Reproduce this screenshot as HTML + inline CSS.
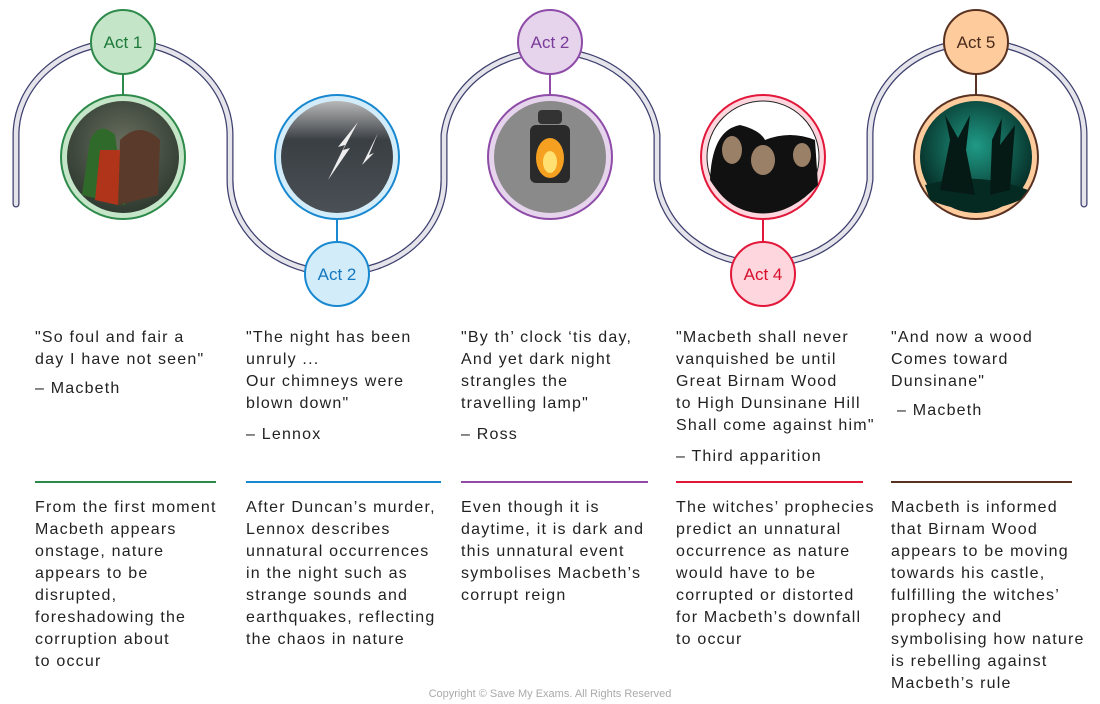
<!DOCTYPE html>
<html><head><meta charset="utf-8"><style>
body{margin:0;width:1100px;height:704px;background:#fff;position:relative;overflow:hidden;font-family:"Liberation Sans",sans-serif;}
.t{position:absolute;font-size:16px;letter-spacing:1.2px;color:#222;white-space:nowrap;line-height:22px;}
.hr{position:absolute;top:481px;height:2px;}
.cp{position:absolute;top:688px;left:0;width:1100px;text-align:center;font-size:11px;color:#aaa;}
</style></head><body>
<svg width="1100" height="704" style="position:absolute;left:0;top:0">
<defs>
<radialGradient id="g1" cx="50%" cy="40%" r="60%"><stop offset="0" stop-color="#6a7060"/><stop offset="1" stop-color="#2f3a30"/></radialGradient>
<linearGradient id="g2" x1="0" y1="0" x2="0" y2="1"><stop offset="0" stop-color="#b8b8b8"/><stop offset="0.35" stop-color="#3a3f44"/><stop offset="1" stop-color="#4a5055"/></linearGradient>
<radialGradient id="g5" cx="50%" cy="40%" r="60%"><stop offset="0" stop-color="#1f9a86"/><stop offset="1" stop-color="#04261f"/></radialGradient>
</defs>
<g fill="none" stroke-linecap="round">
<path d="M16 204 V135 A107 93 0 0 1 230 135 V180 A107 93 0 0 0 444 180 V135 A107 93 0 0 1 657 135 V180 A107 93 0 0 0 870 180 V135 A107 93 0 0 1 1084 135 V204" stroke="#3d3f6e" stroke-width="7"/>
<path d="M16 204 V135 A107 93 0 0 1 230 135 V180 A107 93 0 0 0 444 180 V135 A107 93 0 0 1 657 135 V180 A107 93 0 0 0 870 180 V135 A107 93 0 0 1 1084 135 V204" stroke="#e4e4ea" stroke-width="4.5"/>
</g>
<line x1="123" y1="74" x2="123" y2="96" stroke="#2d8a4a" stroke-width="2"/>
<line x1="337" y1="220" x2="337" y2="242" stroke="#1888d0" stroke-width="2"/>
<line x1="550" y1="74" x2="550" y2="96" stroke="#8e4ca8" stroke-width="2"/>
<line x1="763" y1="220" x2="763" y2="242" stroke="#e3173a" stroke-width="2"/>
<line x1="976" y1="74" x2="976" y2="96" stroke="#5a3222" stroke-width="2"/>
<circle cx="123" cy="157" r="62" fill="#c5e5c8" stroke="#2d8a4a" stroke-width="2"/>
<circle cx="123" cy="157" r="56" fill="url(#g1)"/>
<path d="M82 195 L90 140 Q100 120 115 135 L125 205 Z" fill="#2f6a2a"/><path d="M118 205 L120 140 Q140 120 160 140 L158 195 Z" fill="#5a3a2a"/><path d="M95 200 L100 150 L120 150 L118 205Z" fill="#b0341a"/>
<circle cx="337" cy="157" r="62" fill="#d3ecf9" stroke="#1888d0" stroke-width="2"/>
<circle cx="337" cy="157" r="56" fill="url(#g2)"/>
<path d="M358 122 L343 150 L350 148 L328 180 L345 145 L338 147 Z M378 133 L369 155 L374 153 L362 165 Z" fill="#eee"/>
<circle cx="550" cy="157" r="62" fill="#e6d3ec" stroke="#8e4ca8" stroke-width="2"/>
<circle cx="550" cy="157" r="56" fill="#8a8a8a"/>
<rect x="530" y="125" width="40" height="58" rx="6" fill="#2a2a2a"/><ellipse cx="550" cy="158" rx="14" ry="20" fill="#f5a020"/><ellipse cx="550" cy="162" rx="7" ry="11" fill="#ffe070"/><rect x="538" y="110" width="24" height="14" rx="4" fill="#333"/>
<circle cx="763" cy="157" r="62" fill="#fdd6de" stroke="#e3173a" stroke-width="2"/>
<circle cx="763" cy="157" r="56" fill="#fff" stroke="#222"/>
<path d="M710 180 Q712 130 740 125 Q760 130 765 140 Q790 130 815 140 L818 185 Q790 215 760 213 Q730 212 710 180Z" fill="#111"/>
<ellipse cx="732" cy="150" rx="10" ry="14" fill="#9b8068"/><ellipse cx="763" cy="160" rx="12" ry="15" fill="#9b8068"/><ellipse cx="802" cy="155" rx="9" ry="12" fill="#9b8068"/>
<circle cx="976" cy="157" r="62" fill="#fdcb9c" stroke="#5a3222" stroke-width="2"/>
<circle cx="976" cy="157" r="56" fill="url(#g5)"/>
<path d="M925 185 Q976 170 1028 190 L1020 200 Q976 220 930 200Z" fill="#052a22"/><path d="M940 190 L950 140 L945 115 L958 138 L970 115 L966 150 L975 195Z M990 195 L992 140 L1002 118 L1000 145 L1015 125 L1010 190Z" fill="#051a15"/>
<g font-family="Liberation Sans, sans-serif" font-size="17" text-anchor="middle">
<circle cx="123" cy="42" r="32" fill="#c5e5c8" stroke="#2d8a4a" stroke-width="2"/><text x="123" y="48" fill="#1d7a3a">Act 1</text>
<circle cx="337" cy="274" r="32" fill="#d3ecf9" stroke="#1888d0" stroke-width="2"/><text x="337" y="280" fill="#1478c0">Act 2</text>
<circle cx="550" cy="42" r="32" fill="#e6d3ec" stroke="#8e4ca8" stroke-width="2"/><text x="550" y="48" fill="#7a3c98">Act 2</text>
<circle cx="763" cy="274" r="32" fill="#fdd6de" stroke="#e3173a" stroke-width="2"/><text x="763" y="280" fill="#d8102e">Act 4</text>
<circle cx="976" cy="42" r="32" fill="#fdcb9c" stroke="#5a3222" stroke-width="2"/><text x="976" y="48" fill="#4a2a1a">Act 5</text>
</g>
</svg>

<div class="t" style="left:35px;top:327px">"So foul and fair a<br>day I have not seen"</div>
<div class="t" style="left:35px;top:378px">– Macbeth</div>
<div class="t" style="left:246px;top:327px">"The night has been<br>unruly ...<br>Our chimneys were<br>blown down"</div>
<div class="t" style="left:246px;top:424px">– Lennox</div>
<div class="t" style="left:461px;top:327px">"By th’ clock ‘tis day,<br>And yet dark night<br>strangles the<br>travelling lamp"</div>
<div class="t" style="left:461px;top:424px">– Ross</div>
<div class="t" style="left:676px;top:327px">"Macbeth shall never<br>vanquished be until<br>Great Birnam Wood<br>to High Dunsinane Hill<br>Shall come against him"</div>
<div class="t" style="left:676px;top:446px">– Third apparition</div>
<div class="t" style="left:891px;top:327px">"And now a wood<br>Comes toward<br>Dunsinane"</div>
<div class="t" style="left:897px;top:400px">– Macbeth</div>

<div class="hr" style="left:35px;width:181px;background:#2d8a4a"></div>
<div class="hr" style="left:246px;width:195px;background:#1888d0"></div>
<div class="hr" style="left:461px;width:187px;background:#8e4ca8"></div>
<div class="hr" style="left:676px;width:187px;background:#e3173a"></div>
<div class="hr" style="left:891px;width:181px;background:#5a3222"></div>

<div class="t" style="left:35px;top:497px">From the first moment<br>Macbeth appears<br>onstage, nature<br>appears to be<br>disrupted,<br>foreshadowing the<br>corruption about<br>to occur</div>
<div class="t" style="left:246px;top:497px">After Duncan’s murder,<br>Lennox describes<br>unnatural occurrences<br>in the night such as<br>strange sounds and<br>earthquakes, reflecting<br>the chaos in nature</div>
<div class="t" style="left:461px;top:497px">Even though it is<br>daytime, it is dark and<br>this unnatural event<br>symbolises Macbeth’s<br>corrupt reign</div>
<div class="t" style="left:676px;top:497px">The witches’ prophecies<br>predict an unnatural<br>occurrence as nature<br>would have to be<br>corrupted or distorted<br>for Macbeth’s downfall<br>to occur</div>
<div class="t" style="left:891px;top:497px">Macbeth is informed<br>that Birnam Wood<br>appears to be moving<br>towards his castle,<br>fulfilling the witches’<br>prophecy and<br>symbolising how nature<br>is rebelling against<br>Macbeth’s rule</div>
<div class="cp">Copyright © Save My Exams. All Rights Reserved</div>
</body></html>
